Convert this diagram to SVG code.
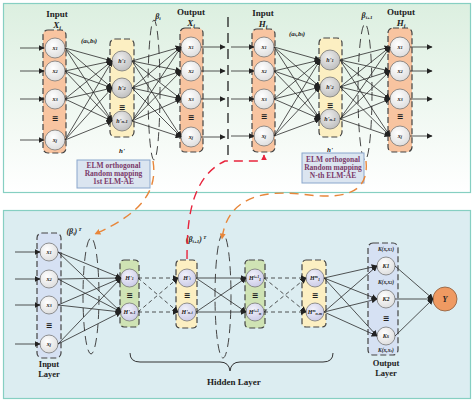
<svg xmlns="http://www.w3.org/2000/svg" width="474" height="402" viewBox="0 0 474 402">
<defs>
<linearGradient id="gTop" x1="0" y1="0" x2="0" y2="1">
<stop offset="0" stop-color="#dcefe0"/><stop offset="1" stop-color="#ffffff"/>
</linearGradient>
<radialGradient id="gCirc" cx="0.4" cy="0.35" r="0.7">
<stop offset="0" stop-color="#ffffff"/><stop offset="1" stop-color="#dcdcdc"/>
</radialGradient>
<radialGradient id="gHid" cx="0.4" cy="0.35" r="0.7">
<stop offset="0" stop-color="#eeeeee"/><stop offset="1" stop-color="#bdbdbd"/>
</radialGradient>
<radialGradient id="gLav" cx="0.4" cy="0.35" r="0.7">
<stop offset="0" stop-color="#f2f2fb"/><stop offset="1" stop-color="#c9c9e6"/>
</radialGradient>
<marker id="ar" viewBox="0 0 10 10" refX="9" refY="5" markerWidth="6" markerHeight="6" markerUnits="userSpaceOnUse" orient="auto">
<path d="M0,0 L10,5 L0,10 z" fill="#222"/>
</marker>
<marker id="arR" viewBox="0 0 10 10" refX="9" refY="5" markerWidth="6" markerHeight="6" markerUnits="userSpaceOnUse" orient="auto">
<path d="M0,0 L10,5 L0,10 z" fill="#e8243c"/>
</marker>
<marker id="arO" viewBox="0 0 10 10" refX="9" refY="5" markerWidth="6" markerHeight="6" markerUnits="userSpaceOnUse" orient="auto">
<path d="M0,0 L10,5 L0,10 z" fill="#e8863a"/>
</marker>
</defs>
<style>
.panel{stroke:#86cfc2;stroke-width:1.2}
.orng{fill:#f8c4a0;stroke:#444;stroke-width:1.2;stroke-dasharray:6,3}
.yel{fill:#fcefc2;stroke:#444;stroke-width:1.2;stroke-dasharray:6,3}
.grn{fill:#cfe3b4;stroke:#444;stroke-width:1.2;stroke-dasharray:6,3}
.blu{fill:#d6e1f3;stroke:#444;stroke-width:1.2;stroke-dasharray:6,3}
.c{fill:url(#gCirc);stroke:#777;stroke-width:0.8}
.ch{fill:url(#gHid);stroke:#777;stroke-width:0.8}
.cl{fill:url(#gLav);stroke:#777;stroke-width:0.8}
.ln{stroke:#2a2a2a;stroke-width:0.8;fill:none}
.dl{stroke:#2a2a2a;stroke-width:0.8;fill:none;stroke-dasharray:4,3}
.ell{fill:none;stroke:#444;stroke-width:1;stroke-dasharray:9,5}
.t{font-family:"Liberation Serif",serif;font-weight:bold;text-anchor:middle;fill:#222}
.lb{font-size:9px}
.ci{font-size:6px;font-style:italic}
.it{font-style:italic}
.bx{fill:#dbe5f0;stroke:#8aa6cc;stroke-width:1}
.bt{font-family:"Liberation Serif",serif;font-weight:bold;font-size:7.5px;text-anchor:middle;fill:#7b3a6a}
.eq{font-family:"DejaVu Sans",sans-serif;font-weight:bold;font-size:8px;text-anchor:middle;fill:#222}
</style>

<!-- panels -->
<rect x="3.5" y="3.5" width="467" height="189" fill="url(#gTop)" class="panel"/>
<rect x="3.5" y="210.5" width="467" height="188" fill="#dcedf1" class="panel"/>

<!-- ===== top left ELM-AE ===== -->
<g id="ae1-input">
<text class="t lb" x="57" y="17">Input</text>
<text class="t lb it" x="57" y="28">X<tspan font-size="6" dy="2">i</tspan></text>
<rect class="orng" x="43" y="30" width="23" height="123" rx="5"/>
<circle class="c" cx="55" cy="48" r="10"/><text class="t ci" x="55" y="50">x<tspan font-size="4.5">1</tspan></text>
<circle class="c" cx="55" cy="71" r="10"/><text class="t ci" x="55" y="73">x<tspan font-size="4.5">2</tspan></text>
<circle class="c" cx="55" cy="99" r="10"/><text class="t ci" x="55" y="101">x<tspan font-size="4.5">3</tspan></text>
<text class="eq" x="55" y="121">≡</text>
<circle class="c" cx="55" cy="140" r="10"/><text class="t ci" x="55" y="142">x<tspan font-size="4.5">j</tspan></text>
</g>
<g id="ae1-hidden">
<text class="t it" font-size="7" x="89" y="43">(a<tspan font-size="5">i</tspan>,b<tspan font-size="5">i</tspan>)</text>
<rect class="yel" x="110" y="39" width="24" height="98" rx="5"/>
<circle class="ch" cx="122" cy="61" r="10"/><text class="t ci" x="122" y="63">h'<tspan font-size="4.5">1</tspan></text>
<circle class="ch" cx="122" cy="88" r="10"/><text class="t ci" x="122" y="90">h'<tspan font-size="4.5">2</tspan></text>
<text class="eq" x="122" y="110">≡</text>
<circle class="ch" cx="122" cy="121" r="10"/><text class="t ci" x="122" y="123">h'<tspan font-size="4.5">n-1</tspan></text>
<text class="t it" font-size="7" x="122" y="153">h'</text>
</g>
<g id="ae1-beta">
<ellipse class="ell" cx="154" cy="90" rx="6" ry="70"/>
<text class="t it" font-size="8" x="158" y="19">β<tspan font-size="5" dy="1">i</tspan></text>
</g>
<g id="ae1-output">
<text class="t lb" x="191" y="15">Output</text>
<text class="t lb it" x="191" y="26">X<tspan font-size="6" dy="2">i</tspan></text>
<rect class="orng" x="180" y="28" width="23" height="124" rx="5"/>
<circle class="c" cx="191" cy="47" r="10"/><text class="t ci" x="191" y="49">x<tspan font-size="4.5">1</tspan></text>
<circle class="c" cx="191" cy="71" r="10"/><text class="t ci" x="191" y="73">x<tspan font-size="4.5">2</tspan></text>
<circle class="c" cx="191" cy="99" r="10"/><text class="t ci" x="191" y="101">x<tspan font-size="4.5">3</tspan></text>
<text class="eq" x="191" y="120">≡</text>
<circle class="c" cx="191" cy="137" r="10"/><text class="t ci" x="191" y="139">x<tspan font-size="4.5">j</tspan></text>
</g>
<g id="ae1-box">
<rect class="bx" x="77" y="160" width="73" height="28"/>
<text class="bt" x="113.5" y="168">ELM orthogonal</text>
<text class="bt" x="113.5" y="176">Random mapping</text>
<text class="bt" x="113.5" y="184">1st ELM-AE</text>
</g>

<!-- ===== top right ELM-AE ===== -->
<g id="ae2-input">
<text class="t lb" x="263" y="16">Input</text>
<text class="t lb it" x="263" y="27">H<tspan font-size="6" dy="2">i</tspan></text>
<rect class="orng" x="252" y="29" width="23" height="123" rx="5"/>
<circle class="c" cx="264" cy="47" r="10"/><text class="t ci" x="264" y="49">x<tspan font-size="4.5">1</tspan></text>
<circle class="c" cx="264" cy="71" r="10"/><text class="t ci" x="264" y="73">x<tspan font-size="4.5">2</tspan></text>
<circle class="c" cx="264" cy="99" r="10"/><text class="t ci" x="264" y="101">x<tspan font-size="4.5">3</tspan></text>
<text class="eq" x="264" y="119">≡</text>
<circle class="c" cx="264" cy="136" r="10"/><text class="t ci" x="264" y="138">x<tspan font-size="4.5">j</tspan></text>
</g>
<g id="ae2-hidden">
<text class="t it" font-size="7" x="297" y="36">(a<tspan font-size="5">i</tspan>,b<tspan font-size="5">i</tspan>)</text>
<rect class="yel" x="319" y="38" width="23" height="99" rx="5"/>
<circle class="ch" cx="330" cy="60" r="10"/><text class="t ci" x="330" y="62">h'<tspan font-size="4.5">1</tspan></text>
<circle class="ch" cx="330" cy="87" r="10"/><text class="t ci" x="330" y="89">h'<tspan font-size="4.5">2</tspan></text>
<text class="eq" x="330" y="108">≡</text>
<circle class="ch" cx="330" cy="119" r="10"/><text class="t ci" x="330" y="121">h'<tspan font-size="4.5">n-1</tspan></text>
<text class="t it" font-size="7" x="330" y="152">h'</text>
</g>
<g id="ae2-beta">
<ellipse class="ell" cx="365" cy="92" rx="7" ry="68"/>
<text class="t it" font-size="8" x="367" y="18">β<tspan font-size="5" dy="1">i+1</tspan></text>
</g>
<g id="ae2-output">
<text class="t lb" x="401" y="15">Output</text>
<text class="t lb it" x="401" y="26">H<tspan font-size="6" dy="2">i</tspan></text>
<rect class="orng" x="388" y="28" width="24" height="124" rx="5"/>
<circle class="c" cx="400" cy="47" r="10"/><text class="t ci" x="400" y="49">x<tspan font-size="4.5">1</tspan></text>
<circle class="c" cx="400" cy="71" r="10"/><text class="t ci" x="400" y="73">x<tspan font-size="4.5">2</tspan></text>
<circle class="c" cx="400" cy="99" r="10"/><text class="t ci" x="400" y="101">x<tspan font-size="4.5">3</tspan></text>
<text class="eq" x="400" y="119">≡</text>
<circle class="c" cx="400" cy="136" r="10"/><text class="t ci" x="400" y="138">x<tspan font-size="4.5">j</tspan></text>
</g>
<g id="ae2-box">
<rect class="bx" x="302" y="153" width="62" height="30"/>
<text class="bt" x="333" y="162">ELM orthogonal</text>
<text class="bt" x="333" y="170">Random mapping</text>
<text class="bt" x="333" y="178">N-th ELM-AE</text>
</g>

<!-- ===== bottom network ===== -->
<g id="b-input">
<rect class="blu" x="37" y="233" width="24" height="125" rx="5"/>
<circle class="c" cx="49" cy="252" r="9"/><text class="t ci" x="49" y="254">x<tspan font-size="4.5">1</tspan></text>
<circle class="c" cx="49" cy="279" r="9"/><text class="t ci" x="49" y="281">x<tspan font-size="4.5">2</tspan></text>
<circle class="c" cx="49" cy="305" r="9"/><text class="t ci" x="49" y="307">x<tspan font-size="4.5">3</tspan></text>
<text class="eq" x="49" y="328">≡</text>
<circle class="c" cx="49" cy="344" r="9"/><text class="t ci" x="49" y="346">x<tspan font-size="4.5">j</tspan></text>
<text class="t" font-size="8.5" x="49" y="367">Input</text>
<text class="t" font-size="8.5" x="49" y="377">Layer</text>
</g>
<g id="b-beta1">
<ellipse class="ell" cx="91" cy="296" rx="8" ry="58"/>
<text class="t it" font-size="8" x="74" y="234">(β<tspan font-size="5" dy="1">i</tspan><tspan dy="-1">)</tspan><tspan font-size="5" dy="-3"> T</tspan></text>
</g>
<g id="b-h1">
<rect class="grn" x="120" y="260" width="19" height="67" rx="4"/>
<circle class="cl" cx="129.5" cy="278" r="9"/><text class="t ci" x="129.5" y="280">H'<tspan font-size="4">1</tspan></text>
<text class="eq" x="129.5" y="298">≡</text>
<circle class="cl" cx="129.5" cy="312" r="9"/><text class="t ci" x="129.5" y="314">H'<tspan font-size="4">n-1</tspan></text>
</g>
<g id="b-h2">
<rect class="yel" x="176" y="260" width="21" height="68" rx="4"/>
<circle class="cl" cx="187" cy="278" r="9"/><text class="t ci" x="187" y="280">H'<tspan font-size="4">i</tspan></text>
<text class="eq" x="187" y="298">≡</text>
<circle class="cl" cx="187" cy="312" r="9"/><text class="t ci" x="187" y="314">H'<tspan font-size="4">n-i</tspan></text>
<text class="t it" font-size="8" x="196" y="242">(β<tspan font-size="5" dy="1">i+1</tspan><tspan dy="-1">)</tspan><tspan font-size="5" dy="-3"> T</tspan></text>
</g>
<g id="b-beta2">
<ellipse class="ell" cx="223" cy="296" rx="8" ry="62"/>
</g>
<g id="b-h3">
<rect class="grn" x="245" y="260" width="20" height="68" rx="4"/>
<circle class="cl" cx="255" cy="278" r="9"/><text class="t ci" x="255" y="280">H<tspan font-size="4" dy="-2">i+1</tspan><tspan font-size="4" dy="3">1</tspan></text>
<text class="eq" x="255" y="298">≡</text>
<circle class="cl" cx="255" cy="312" r="9"/><text class="t ci" x="255" y="314">H<tspan font-size="4" dy="-2">i+1</tspan><tspan font-size="4" dy="3">n</tspan></text>
</g>
<g id="b-h4">
<rect class="yel" x="302" y="260" width="24" height="67" rx="4"/>
<circle class="cl" cx="315" cy="278" r="9"/><text class="t ci" x="315" y="280">H<tspan font-size="4" dy="-2">m</tspan><tspan font-size="4" dy="3">1</tspan></text>
<text class="eq" x="315" y="298">≡</text>
<circle class="cl" cx="315" cy="312" r="9"/><text class="t ci" x="315" y="314">H<tspan font-size="4" dy="-2">m</tspan><tspan font-size="4" dy="3">n-m</tspan></text>
</g>
<g id="b-output">
<rect class="blu" x="368" y="243" width="30" height="112" rx="5"/>
<text class="t it" font-size="5.5" x="386" y="251">K(x,x<tspan font-size="4">1</tspan>)</text>
<circle class="c" cx="386" cy="266" r="9"/><text class="t ci" x="386" y="268">K1</text>
<text class="t it" font-size="5.5" x="386" y="284">K(x,x<tspan font-size="4">2</tspan>)</text>
<circle class="c" cx="386" cy="299" r="9"/><text class="t ci" x="386" y="301">K2</text>
<text class="eq" x="386" y="321">≡</text>
<circle class="c" cx="386" cy="336" r="9"/><text class="t ci" x="386" y="338">Ks</text>
<text class="t it" font-size="5.5" x="386" y="352">K(x,x<tspan font-size="4">s</tspan>)</text>
<text class="t" font-size="8.5" x="386" y="366">Output</text>
<text class="t" font-size="8.5" x="386" y="376">Layer</text>
</g>
<g id="b-y">
<circle cx="445" cy="299" r="12" fill="#ef9a62" stroke="#8a5a3a" stroke-width="0.8"/>
<text class="t it" font-size="8" x="445" y="302">Y</text>
</g>
<g id="b-brace">
<path d="M130,353 Q130,362 140,362 L220,362 Q229,362 230,371 Q231,362 240,362 L323,362 Q333,362 333,353" fill="none" stroke="#333" stroke-width="1"/>
<text class="t" font-size="9" x="234" y="385">Hidden Layer</text>
</g>

<!-- ===== connectors ===== -->
<g id="connectors">
<g class="ln" marker-end="url(#ar)">
<line x1="20" y1="48" x2="44" y2="48"/><line x1="20" y1="71" x2="44" y2="71"/><line x1="20" y1="99" x2="44" y2="99"/><line x1="20" y1="140" x2="44" y2="140"/>
<line x1="65" y1="48" x2="112" y2="61"/><line x1="65" y1="48" x2="112" y2="88"/><line x1="65" y1="48" x2="112" y2="121"/>
<line x1="65" y1="71" x2="112" y2="61"/><line x1="65" y1="71" x2="112" y2="88"/><line x1="65" y1="71" x2="112" y2="121"/>
<line x1="65" y1="99" x2="112" y2="61"/><line x1="65" y1="99" x2="112" y2="88"/><line x1="65" y1="99" x2="112" y2="121"/>
<line x1="65" y1="140" x2="112" y2="61"/><line x1="65" y1="140" x2="112" y2="88"/><line x1="65" y1="140" x2="112" y2="121"/>
<line x1="132" y1="61" x2="181" y2="47"/><line x1="132" y1="61" x2="181" y2="71"/><line x1="132" y1="61" x2="181" y2="99"/><line x1="132" y1="61" x2="181" y2="137"/>
<line x1="132" y1="88" x2="181" y2="47"/><line x1="132" y1="88" x2="181" y2="71"/><line x1="132" y1="88" x2="181" y2="99"/><line x1="132" y1="88" x2="181" y2="137"/>
<line x1="132" y1="121" x2="181" y2="47"/><line x1="132" y1="121" x2="181" y2="71"/><line x1="132" y1="121" x2="181" y2="99"/><line x1="132" y1="121" x2="181" y2="137"/>
<line x1="201" y1="47" x2="225" y2="47"/><line x1="201" y1="71" x2="225" y2="71"/><line x1="201" y1="99" x2="225" y2="99"/><line x1="201" y1="137" x2="225" y2="137"/>
<line x1="231" y1="47" x2="254" y2="47"/><line x1="231" y1="71" x2="254" y2="71"/><line x1="231" y1="99" x2="254" y2="99"/><line x1="231" y1="136" x2="254" y2="136"/>
<line x1="274" y1="47" x2="320" y2="60"/><line x1="274" y1="47" x2="320" y2="87"/><line x1="274" y1="47" x2="320" y2="119"/>
<line x1="274" y1="71" x2="320" y2="60"/><line x1="274" y1="71" x2="320" y2="87"/><line x1="274" y1="71" x2="320" y2="119"/>
<line x1="274" y1="99" x2="320" y2="60"/><line x1="274" y1="99" x2="320" y2="87"/><line x1="274" y1="99" x2="320" y2="119"/>
<line x1="274" y1="136" x2="320" y2="60"/><line x1="274" y1="136" x2="320" y2="87"/><line x1="274" y1="136" x2="320" y2="119"/>
<line x1="340" y1="60" x2="390" y2="47"/><line x1="340" y1="60" x2="390" y2="71"/><line x1="340" y1="60" x2="390" y2="99"/><line x1="340" y1="60" x2="390" y2="136"/>
<line x1="340" y1="87" x2="390" y2="47"/><line x1="340" y1="87" x2="390" y2="71"/><line x1="340" y1="87" x2="390" y2="99"/><line x1="340" y1="87" x2="390" y2="136"/>
<line x1="340" y1="119" x2="390" y2="47"/><line x1="340" y1="119" x2="390" y2="71"/><line x1="340" y1="119" x2="390" y2="99"/><line x1="340" y1="119" x2="390" y2="136"/>
<line x1="410" y1="47" x2="432" y2="47"/><line x1="410" y1="71" x2="432" y2="71"/><line x1="410" y1="99" x2="432" y2="99"/><line x1="410" y1="136" x2="432" y2="136"/>
<line x1="15" y1="252" x2="40" y2="252"/><line x1="15" y1="279" x2="40" y2="279"/><line x1="15" y1="305" x2="40" y2="305"/><line x1="15" y1="344" x2="40" y2="344"/>
<line x1="58" y1="252" x2="121" y2="278"/><line x1="58" y1="252" x2="121" y2="312"/>
<line x1="58" y1="279" x2="121" y2="278"/><line x1="58" y1="279" x2="121" y2="312"/>
<line x1="58" y1="305" x2="121" y2="278"/><line x1="58" y1="305" x2="121" y2="312"/>
<line x1="58" y1="344" x2="121" y2="278"/><line x1="58" y1="344" x2="121" y2="312"/>
<line x1="196" y1="278" x2="246" y2="278"/><line x1="196" y1="278" x2="246" y2="312"/>
<line x1="196" y1="312" x2="246" y2="278"/><line x1="196" y1="312" x2="246" y2="312"/>
<line x1="324" y1="278" x2="377" y2="266"/><line x1="324" y1="278" x2="377" y2="299"/><line x1="324" y1="278" x2="377" y2="336"/>
<line x1="324" y1="312" x2="377" y2="266"/><line x1="324" y1="312" x2="377" y2="299"/><line x1="324" y1="312" x2="377" y2="336"/>
<line x1="395" y1="266" x2="433" y2="299"/><line x1="395" y1="299" x2="433" y2="299"/><line x1="395" y1="336" x2="433" y2="299"/>
</g>
<g class="dl" marker-end="url(#ar)">
<line x1="138" y1="278" x2="178" y2="278"/><line x1="138" y1="278" x2="178" y2="312"/>
<line x1="138" y1="312" x2="178" y2="278"/><line x1="138" y1="312" x2="178" y2="312"/>
<line x1="264" y1="278" x2="306" y2="278"/><line x1="264" y1="278" x2="306" y2="312"/>
<line x1="264" y1="312" x2="306" y2="278"/><line x1="264" y1="312" x2="306" y2="312"/>
</g>
<line x1="228" y1="17" x2="228" y2="160" stroke="#222" stroke-width="1.3" stroke-dasharray="10,6"/>
<path d="M187,259 C187,225 189,178 225,161 L258,161 C262,161 264,159 264,155" fill="none" stroke="#e8243c" stroke-width="1.4" stroke-dasharray="9,6" marker-end="url(#arR)"/>
<path d="M153,161 C158,192 140,214 95,234" fill="none" stroke="#e8863a" stroke-width="1.4" stroke-dasharray="9,6" marker-end="url(#arO)"/>
<path d="M366,161 C370,200 332,198 300,194 C262,190 227,198 222,239" fill="none" stroke="#e8863a" stroke-width="1.4" stroke-dasharray="9,6" marker-end="url(#arO)"/>
</g>
</svg>
